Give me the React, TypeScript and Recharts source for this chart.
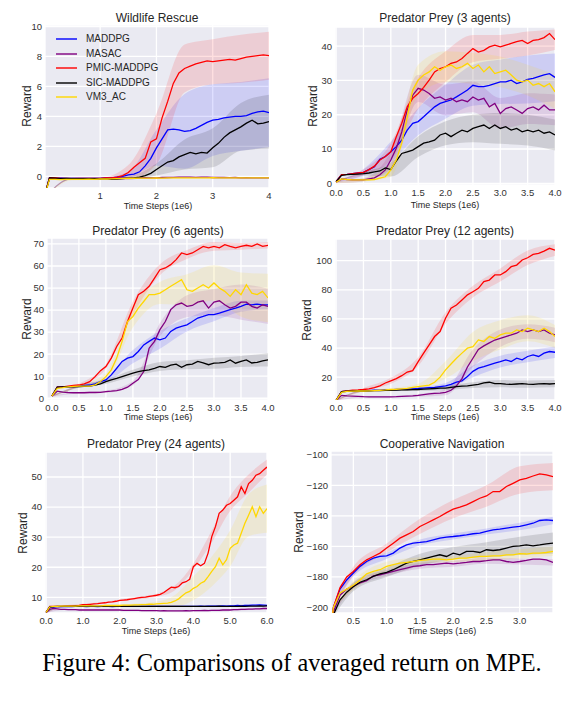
import React from 'react';
import { ComposedChart, Line, Area, XAxis, YAxis, CartesianGrid } from 'recharts';

const METHODS = ['MADDPG', 'MASAC', 'PMIC-MADDPG', 'SIC-MADDPG', 'VM3_AC'];
const COLORS = ['#0000ff', '#800080', '#ff0000', '#000000', '#ffd700'];

// x grids (1e6 steps)
const X4 = [0.0, 0.1, 0.2, 0.3, 0.4, 0.5, 0.6, 0.7, 0.8, 0.9, 1.0, 1.1, 1.2, 1.3, 1.4, 1.5, 1.6, 1.7, 1.8, 1.9, 2.0,
  2.1, 2.2, 2.3, 2.4, 2.5, 2.6, 2.7, 2.8, 2.9, 3.0, 3.1, 3.2, 3.3, 3.4, 3.5, 3.6, 3.7, 3.8, 3.9, 4.0];
const X6 = [0.0, 0.1, 0.2, 0.3, 0.4, 0.5, 0.6, 0.7, 0.8, 0.9, 1.0, 1.1, 1.2, 1.3, 1.4, 1.5, 1.6, 1.7, 1.8, 1.9, 2.0,
  2.1, 2.2, 2.3, 2.4, 2.5, 2.6, 2.7, 2.8, 2.9, 3.0, 3.1, 3.2, 3.3, 3.4, 3.5, 3.6, 3.7, 3.8, 3.9, 4.0,
  4.1, 4.2, 4.3, 4.4, 4.5, 4.6, 4.7, 4.8, 4.9, 5.0, 5.1, 5.2, 5.3, 5.4, 5.5, 5.6, 5.7, 5.8, 5.9, 6.0];
const XNAV = [0.1, 0.2, 0.3, 0.4, 0.5, 0.6, 0.7, 0.8, 0.9, 1.0, 1.1, 1.2, 1.3, 1.4, 1.5, 1.6, 1.7, 1.8, 1.9, 2.0,
  2.1, 2.2, 2.3, 2.4, 2.5, 2.6, 2.7, 2.8, 2.9, 3.0, 3.1, 3.2, 3.3, 3.4, 3.5];
const B4 = [0, 0.5, 1.0, 1.5, 2.0, 2.5, 3.0, 3.5, 4.0];
const B6 = [0, 0.5, 1.0, 1.5, 2.0, 2.5, 3.0, 3.5, 4.0, 4.5, 5.0, 5.5, 6.0];
const BNAV = [0.2, 0.5, 1.0, 1.5, 2.0, 2.5, 3.0, 3.5];

// ---------- Wildlife Rescue ----------
const WR_MADDPG = [-1.5, -0.1, -0.15, -0.13, -0.15, -0.14, -0.16, -0.15, -0.17, -0.15, -0.16, -0.1, -0.1, -0.05, 0.0, 0.1, 0.15, 0.3, 0.7, 1.2, 1.9,
  2.5, 3.1, 3.15, 3.1, 3.0, 3.05, 3.2, 3.4, 3.6, 3.75, 3.8, 3.9, 3.95, 4.0, 4.0, 4.05, 4.2, 4.3, 4.35, 4.25];
const WR_MASAC = [-1.5, -0.1, -0.12, -0.13, -0.12, -0.14, -0.13, -0.12, -0.13, -0.12, -0.12, -0.11, -0.12, -0.1, -0.1, -0.11, -0.1, -0.1, -0.09, -0.1, -0.1,
  -0.08, -0.08, -0.07, -0.06, -0.05, -0.06, -0.07, -0.05, -0.06, -0.08, -0.07, -0.08, -0.09, -0.08, -0.1, -0.09, -0.1, -0.1, -0.1, -0.1];
const WR_PMIC = [-1.5, -0.1, -0.1, -0.15, -0.15, -0.15, -0.16, -0.15, -0.15, -0.17, -0.15, -0.1, -0.1, -0.05, 0.05, 0.25, 0.6, 0.9, 1.2, 2.3, 2.5,
  3.9, 5.0, 6.2, 6.9, 7.2, 7.35, 7.5, 7.6, 7.7, 7.65, 7.7, 7.75, 7.8, 7.75, 7.85, 7.95, 8.0, 8.05, 8.1, 8.05];
const WR_SIC = [-1.5, -0.1, -0.12, -0.15, -0.14, -0.15, -0.15, -0.16, -0.15, -0.15, -0.17, -0.16, -0.2, -0.18, -0.15, -0.12, -0.1, -0.05, 0.05, 0.2, 0.45,
  0.7, 0.95, 1.05, 1.3, 1.45, 1.6, 1.5, 1.6, 1.55, 1.9, 2.2, 2.6, 2.9, 3.1, 3.3, 3.55, 3.75, 3.5, 3.55, 3.65];
const WR_VM3 = [-1.5, -0.2, -0.2, -0.22, -0.2, -0.21, -0.2, -0.2, -0.19, -0.2, -0.18, -0.18, -0.17, -0.15, -0.14, -0.13, -0.13, -0.12, -0.12, -0.12, -0.11,
  -0.12, -0.11, -0.1, -0.1, -0.11, -0.1, -0.1, -0.1, -0.1, -0.09, -0.1, -0.1, -0.1, -0.1, -0.1, -0.1, -0.1, -0.1, -0.1, -0.1];
const WR_SPREAD = [
  [0.05, 0.05, 0.05, 0.2, 1.2, 2.5, 2.4, 2.3, 2.3],
  [0.05, 0.05, 0.05, 0.05, 0.05, 0.05, 0.05, 0.05, 0.05],
  [0.05, 0.05, 0.05, 0.5, 1.7, 1.6, 1.5, 1.6, 1.6],
  [0.05, 0.05, 0.05, 0.1, 0.4, 1.0, 1.3, 1.6, 1.8],
  [0.05, 0.05, 0.05, 0.05, 0.05, 0.05, 0.05, 0.05, 0.05],
];

// ---------- Predator Prey (3 agents) ----------
const PP3_MADDPG = [0.5, 2.5, 2.6, 2.8, 3.0, 3.2, 4.0, 4.8, 7.0, 7.8, 9.2, 10.7, 12.6, 15.5, 17.5, 18.0, 19.4, 20.9, 22.3, 23.3, 23.8,
  24.3, 25.2, 26.2, 27.2, 28.6, 28.2, 28.2, 28.6, 29.1, 29.6, 29.6, 30.1, 29.1, 29.6, 30.3, 30.6, 31.1, 31.6, 32.0, 30.9];
const PP3_MASAC = [0.3, 1.3, 1.1, 1.0, 1.0, 1.0, 1.3, 1.6, 2.5, 3.9, 6.8, 10.2, 15.0, 21.4, 25.7, 27.7, 27.2, 26.2, 24.8, 25.2, 24.3,
  24.8, 23.8, 24.3, 23.8, 25.2, 24.3, 24.8, 22.3, 23.3, 20.4, 21.8, 22.3, 21.4, 20.4, 21.8, 22.3, 21.4, 22.8, 21.4, 21.4];
const PP3_PMIC = [0.5, 2.5, 2.6, 2.8, 3.0, 3.2, 4.0, 5.0, 6.8, 7.8, 9.2, 13.6, 17.5, 22.3, 24.8, 26.2, 28.0, 30.1, 32.5, 33.5, 34.0,
  35.0, 35.4, 36.4, 37.9, 39.3, 38.3, 38.8, 39.8, 40.3, 39.8, 40.3, 40.8, 41.3, 41.7, 40.8, 41.7, 41.9, 42.5, 43.7, 41.9];
const PP3_SIC = [0.5, 2.3, 2.5, 2.6, 2.7, 2.8, 3.0, 3.3, 3.6, 4.5, 4.0, 6.5, 8.7, 9.2, 9.7, 10.7, 11.7, 12.1, 12.6, 14.1, 14.6,
  13.6, 14.6, 15.5, 15.0, 16.0, 16.5, 17.0, 16.0, 17.0, 16.0, 16.5, 15.5, 16.0, 15.0, 15.5, 15.0, 15.5, 14.6, 15.0, 14.1];
const PP3_VM3 = [0.3, 1.3, 1.1, 1.0, 1.0, 1.0, 1.0, 1.1, 1.5, 1.9, 3.9, 6.8, 11.7, 19.4, 27.2, 30.1, 31.6, 32.5, 34.0, 33.0, 34.0,
  34.5, 33.5, 34.0, 35.0, 33.5, 34.5, 32.5, 34.0, 32.0, 32.5, 33.0, 31.6, 30.1, 29.6, 30.1, 28.6, 29.1, 28.2, 29.1, 26.7];
const PP3_SPREAD = [
  [0.3, 1.0, 3.0, 4.0, 5.0, 6.0, 6.5, 7.0, 7.0],
  [0.3, 0.5, 2.5, 4.0, 4.5, 4.5, 4.5, 4.5, 4.5],
  [0.3, 0.8, 2.5, 4.5, 4.5, 4.0, 3.5, 3.5, 3.0],
  [0.3, 0.5, 2.0, 3.0, 3.5, 4.0, 4.5, 4.5, 4.5],
  [0.3, 0.5, 2.0, 4.5, 4.5, 4.5, 4.5, 4.5, 5.0],
];

// ---------- Predator Prey (6 agents) ----------
const PP6_MADDPG = [1.0, 5.0, 5.1, 5.2, 5.4, 5.5, 5.8, 6.0, 6.5, 7.5, 8.3, 10.6, 13.6, 16.7, 18.2, 18.9, 21.2, 24.2, 25.8, 27.3, 26.5,
  27.3, 30.3, 31.8, 32.6, 33.3, 34.8, 36.4, 37.1, 37.9, 37.9, 38.6, 39.4, 40.2, 40.9, 41.7, 42.7, 42.4, 42.7, 42.4, 42.4];
const PP6_MASAC = [1.0, 3.2, 2.8, 2.6, 2.5, 2.5, 2.5, 2.6, 2.6, 2.7, 3.0, 3.2, 3.5, 4.0, 5.0, 6.8, 8.5, 12.1, 22.7, 25.8, 31.1,
  34.8, 40.2, 42.4, 43.2, 41.7, 42.1, 43.6, 44.2, 40.9, 43.6, 44.2, 42.4, 40.9, 41.7, 43.6, 43.6, 41.7, 40.9, 42.4, 41.7];
const PP6_PMIC = [1.0, 5.0, 5.2, 5.5, 5.8, 6.0, 6.5, 7.5, 9.8, 12.5, 14.4, 18.2, 23.5, 27.3, 34.8, 40.9, 47.0, 48.5, 50.8, 54.5, 58.3,
  59.1, 60.6, 62.9, 65.9, 65.2, 65.9, 67.4, 68.9, 68.2, 68.9, 68.2, 69.7, 68.9, 68.2, 68.9, 69.4, 68.9, 70.0, 68.9, 69.4];
const PP6_SIC = [1.0, 5.0, 5.1, 5.2, 5.2, 5.3, 5.4, 5.5, 6.0, 6.5, 7.5, 8.3, 9.0, 9.8, 10.6, 11.4, 12.1, 12.5, 12.9, 13.6, 14.4,
  14.0, 15.0, 15.5, 14.0, 15.2, 15.5, 16.7, 16.0, 15.2, 15.9, 16.0, 16.3, 17.4, 15.9, 16.7, 17.4, 16.0, 16.3, 17.0, 17.4];
const PP6_VM3 = [1.0, 4.5, 4.8, 5.2, 5.4, 5.5, 5.5, 5.5, 6.1, 7.6, 9.8, 12.9, 18.2, 25.8, 34.8, 37.1, 40.9, 43.9, 47.0, 47.0, 47.7,
  49.2, 50.8, 52.3, 53.8, 49.2, 48.5, 50.0, 51.5, 50.0, 52.3, 50.0, 48.5, 46.2, 49.2, 47.0, 51.5, 47.7, 47.0, 48.5, 45.5];
const PP6_SPREAD = [
  [0.3, 0.5, 1.0, 3.0, 4.0, 3.0, 3.0, 2.5, 2.0],
  [0.3, 0.3, 0.5, 1.0, 3.0, 5.0, 6.0, 8.0, 8.0],
  [0.3, 0.5, 1.0, 3.0, 2.5, 2.0, 2.0, 1.5, 1.5],
  [0.3, 0.5, 1.0, 1.5, 2.0, 2.0, 2.5, 2.5, 3.0],
  [0.3, 0.5, 1.5, 5.0, 5.0, 7.0, 8.0, 10.0, 11.0],
];

// ---------- Predator Prey (12 agents) ----------
const PP12_MADDPG = [4.0, 10.0, 10.3, 10.5, 10.6, 10.7, 10.8, 11.0, 11.0, 11.2, 11.3, 11.5, 11.6, 11.8, 12.0, 12.2, 12.5, 12.8, 13.0, 13.5, 14.0,
  15.0, 16.5, 17.5, 20.5, 24.0, 26.2, 27.3, 28.5, 29.6, 30.7, 31.9, 30.7, 33.0, 31.9, 34.2, 35.3, 34.2, 36.5, 37.6, 37.1];
const PP12_MASAC = [4.0, 7.5, 7.2, 7.0, 6.8, 6.6, 6.5, 6.5, 6.5, 6.5, 6.5, 6.6, 6.8, 7.0, 7.2, 7.5, 8.0, 8.5, 8.8, 9.0, 9.5,
  11.0, 14.0, 19.0, 27.0, 33.0, 39.0, 41.5, 43.5, 45.5, 46.7, 47.9, 49.0, 50.2, 52.5, 51.3, 52.5, 51.3, 52.5, 50.2, 49.0];
const PP12_PMIC = [4.0, 10.0, 10.5, 11.0, 11.2, 11.5, 12.0, 12.8, 14.0, 16.0, 17.5, 19.0, 21.0, 23.5, 24.5, 30.7, 36.5, 42.2, 47.9, 51.3, 60.5,
  67.3, 69.6, 73.0, 76.5, 78.7, 81.0, 85.6, 86.7, 90.2, 90.2, 92.5, 95.9, 97.0, 100.5, 102.0, 104.3, 105.0, 106.6, 108.5, 107.3];
const PP12_SIC = [4.0, 10.0, 10.3, 10.5, 10.5, 10.5, 10.6, 10.7, 10.8, 10.9, 11.0, 11.1, 11.2, 11.3, 11.4, 11.5, 11.8, 12.0, 12.2, 12.4, 12.5,
  13.0, 13.5, 13.8, 14.0, 14.5, 15.0, 16.0, 16.5, 15.5, 15.5, 15.2, 15.0, 15.3, 15.5, 15.2, 15.0, 15.4, 15.5, 15.3, 15.5];
const PP12_VM3 = [4.0, 9.5, 10.2, 10.4, 10.5, 10.5, 10.6, 10.8, 11.0, 11.2, 11.5, 11.7, 12.0, 12.3, 13.0, 13.5, 14.0, 14.5, 16.5, 20.0, 25.0,
  29.0, 33.0, 36.5, 39.9, 41.0, 45.6, 44.5, 47.9, 46.7, 49.0, 50.2, 50.2, 52.5, 51.3, 53.6, 52.5, 51.3, 53.6, 51.3, 47.9];
const PP12_SPREAD = [
  [0.5, 0.5, 0.5, 1.0, 2.0, 4.0, 4.0, 4.0, 4.0],
  [0.5, 0.5, 0.5, 1.0, 2.0, 6.0, 6.0, 5.0, 5.0],
  [0.5, 1.0, 2.0, 3.0, 4.0, 4.0, 4.5, 5.0, 4.0],
  [0.5, 0.5, 0.5, 1.0, 1.5, 2.0, 2.5, 2.5, 2.5],
  [0.5, 0.5, 1.0, 2.0, 6.0, 10.0, 10.0, 9.0, 8.0],
];

// ---------- Predator Prey (24 agents) ----------
const PP24_MADDPG = [5.0, 6.5, 6.8, 6.9, 6.9, 6.9, 7.0, 6.9, 7.0, 7.0, 7.0, 6.9, 7.0, 7.0, 6.9, 7.0, 7.0, 7.0, 6.9, 7.0, 7.0,
  7.0, 7.0, 7.0, 7.0, 7.0, 7.0, 7.0, 7.0, 7.0, 7.0, 7.0, 7.0, 7.0, 7.0, 7.0, 7.0, 7.0, 7.0, 7.0, 7.0,
  7.0, 7.1, 7.0, 7.1, 7.1, 7.1, 7.1, 7.2, 7.1, 7.2, 7.2, 7.3, 7.2, 7.3, 7.3, 7.4, 7.4, 7.5, 7.4, 7.3];
const PP24_MASAC = [5.0, 6.0, 6.3, 6.2, 6.0, 6.0, 5.9, 5.9, 5.9, 5.8, 5.8, 5.8, 5.8, 5.8, 5.8, 5.8, 5.8, 5.8, 5.8, 5.8, 5.8,
  5.7, 5.7, 5.7, 5.7, 5.7, 5.6, 5.6, 5.6, 5.6, 5.6, 5.5, 5.6, 5.5, 5.5, 5.5, 5.5, 5.5, 5.6, 5.5, 5.6,
  5.6, 5.6, 5.7, 5.6, 5.7, 5.7, 5.7, 5.8, 5.8, 5.8, 5.9, 5.9, 6.0, 6.0, 6.1, 6.1, 6.2, 6.2, 6.3, 6.3];
const PP24_PMIC = [5.0, 7.0, 7.0, 7.0, 7.0, 7.1, 7.1, 7.2, 7.2, 7.3, 7.6, 7.6, 7.7, 7.8, 7.9, 8.1, 8.2, 8.4, 8.5, 8.7, 9.0,
  9.1, 9.2, 9.4, 9.6, 9.8, 10.0, 10.1, 10.3, 10.5, 10.7, 11.0, 11.6, 12.5, 13.4, 13.2, 13.6, 14.8, 15.2, 16.0, 20.2,
  21.3, 20.5, 21.3, 24.7, 30.2, 33.5, 37.9, 39.0, 40.6, 41.2, 42.3, 43.4, 46.7, 44.5, 47.8, 48.9, 50.6, 51.1, 52.2, 53.3];
const PP24_SIC = [5.0, 6.8, 6.9, 7.0, 7.0, 7.0, 7.0, 7.0, 7.1, 7.0, 7.0, 7.0, 7.1, 7.0, 7.0, 7.0, 7.0, 7.1, 7.0, 7.0, 7.0,
  7.0, 7.0, 7.1, 7.0, 7.0, 7.0, 7.0, 7.0, 7.0, 7.0, 7.0, 7.0, 7.0, 7.0, 7.0, 7.0, 7.0, 7.0, 7.0, 7.0,
  7.0, 7.0, 7.0, 7.0, 7.0, 7.0, 7.1, 7.0, 7.0, 7.0, 7.0, 7.0, 7.1, 7.0, 7.1, 7.1, 7.1, 7.2, 7.1, 7.2];
const PP24_VM3 = [5.0, 6.8, 7.0, 7.0, 7.1, 7.1, 7.1, 7.1, 7.1, 7.2, 7.2, 7.2, 7.2, 7.2, 7.2, 7.2, 7.3, 7.3, 7.3, 7.3, 7.3,
  7.4, 7.4, 7.4, 7.5, 7.5, 7.6, 7.6, 7.7, 7.7, 7.8, 7.9, 8.0, 8.1, 8.3, 8.8, 9.5, 10.5, 11.5, 12.0, 13.0,
  13.6, 14.7, 15.3, 16.9, 18.6, 20.2, 23.0, 20.8, 22.5, 26.3, 27.4, 28.0, 31.3, 34.6, 37.3, 40.1, 36.8, 40.1, 37.9, 39.5];
const PP24_SPREAD = [
  [0.2, 0.2, 0.2, 0.2, 0.2, 0.2, 0.2, 0.2, 0.2, 0.3, 0.3, 0.3, 0.3],
  [0.2, 0.2, 0.2, 0.2, 0.2, 0.2, 0.2, 0.2, 0.2, 0.3, 0.3, 0.3, 0.3],
  [0.2, 0.2, 0.3, 0.3, 0.3, 0.4, 0.5, 0.8, 1.0, 2.0, 2.5, 3.0, 2.5],
  [0.2, 0.2, 0.2, 0.2, 0.2, 0.2, 0.2, 0.2, 0.2, 0.2, 0.2, 0.2, 0.2],
  [0.2, 0.2, 0.3, 0.3, 0.3, 0.5, 0.8, 2.0, 4.0, 5.0, 6.0, 7.0, 8.0],
];

// ---------- Cooperative Navigation ----------
const CN_MADDPG = [-240, -200, -188, -182, -177.5, -173.1, -169.9, -167.7, -166.6, -166.2, -164.4, -161.1, -159, -157.9, -157.4, -156.8, -155.7, -154.6, -153.9, -153.5,
  -153, -152.4, -151.7, -151.3, -150.2, -149.1, -148.7, -148, -147.4, -146.9, -145.9, -144.8, -143, -142.6, -143];
const CN_MASAC = [-245, -203, -192, -188, -186, -184, -182.5, -179.3, -178.6, -177.5, -176.4, -175.3, -174.2, -173.1, -172.7, -172, -172, -171.4, -171, -171.4,
  -171, -170.5, -169.9, -169.9, -169.4, -168.8, -168.8, -169.9, -170.5, -169.9, -169.2, -168.3, -168.3, -168.8, -170.5];
const CN_PMIC = [-240, -200, -187, -180, -176.4, -172, -168.8, -166.6, -164.4, -161.1, -157.9, -154.6, -152.4, -150.2, -146.9, -144.8, -142.6, -140.4, -137.8, -135.6,
  -134.3, -132.8, -130.6, -128.4, -126.9, -124, -124, -120.7, -118.6, -116.4, -115.3, -113.8, -112.4, -113.1, -114.2];
const CN_SIC = [-245, -205, -195, -190, -186.5, -183.5, -181.9, -179.7, -178, -177, -175.3, -173.1, -171, -169.9, -168.8, -167.7, -166.6, -165.5, -166.6, -164.4,
  -165.5, -163.3, -163.3, -164, -162.2, -162.7, -162.2, -161.1, -160, -159.6, -159, -159.6, -159, -158.3, -157.9];
const CN_VM3 = [-240, -200, -190.6, -188, -185.5, -182, -178, -176.4, -175.3, -173.1, -172, -171, -170.5, -169.9, -169.2, -168.8, -168.3, -168.3, -168.8, -168.3,
  -167.7, -167.7, -167, -166.6, -166.6, -166.2, -166.2, -165.5, -165.5, -164.8, -165, -164.4, -164.4, -164, -163.3];
const CN_SPREAD = [
  [1, 2, 2, 2, 2, 2, 2.5, 2.5],
  [1, 2, 2, 2, 2, 2, 2, 2],
  [1, 3, 3, 5, 6, 7, 9, 9],
  [1, 3, 3, 4, 4, 5, 6, 7],
  [1, 3, 3, 2, 2, 3, 3, 3],
];

const X4_TICKS = [0, 0.5, 1, 1.5, 2, 2.5, 3, 3.5, 4];

const PANELS = [
  {
    title: 'Wildlife Rescue', xs: X4, bandX: B4,
    means: [WR_MADDPG, WR_MASAC, WR_PMIC, WR_SIC, WR_VM3], spread: WR_SPREAD,
    rect: { L: 45, T: 25, R: 269, B: 188 },
    xDomain: [0.02, 4.0], yDomain: [-0.78, 10.1],
    xTicks: [1, 2, 3, 4], yTicks: [0, 2, 4, 6, 8, 10], xDigits: 0,
    titlePos: [157, 18], ylabPos: [27, 106], xlabPos: [158, 205.5],
  },
  {
    title: 'Predator Prey (3 agents)', xs: X4, bandX: B4,
    means: [PP3_MADDPG, PP3_MASAC, PP3_PMIC, PP3_SIC, PP3_VM3], spread: PP3_SPREAD,
    rect: { L: 335, T: 27, R: 555, B: 185 },
    xDomain: [-0.02, 4.0], yDomain: [-0.5, 45.6],
    xTicks: X4_TICKS, yTicks: [0, 10, 20, 30, 40], xDigits: 1,
    titlePos: [445, 18], ylabPos: [313, 106], xlabPos: [445, 205],
  },
  {
    title: 'Predator Prey (6 agents)', xs: X4, bandX: B4,
    means: [PP6_MADDPG, PP6_MASAC, PP6_PMIC, PP6_SIC, PP6_VM3], spread: PP6_SPREAD,
    rect: { L: 47, T: 238, R: 268, B: 400 },
    xDomain: [-0.09, 4.0], yDomain: [-0.8, 72.7],
    xTicks: X4_TICKS, yTicks: [0, 10, 20, 30, 40, 50, 60, 70], xDigits: 1,
    titlePos: [158, 231], ylabPos: [27, 319], xlabPos: [158, 417],
  },
  {
    title: 'Predator Prey (12 agents)', xs: X4, bandX: B4,
    means: [PP12_MADDPG, PP12_MASAC, PP12_PMIC, PP12_SIC, PP12_VM3], spread: PP12_SPREAD,
    rect: { L: 335, T: 239, R: 555, B: 400 },
    xDomain: [-0.02, 4.0], yDomain: [4.3, 114.9],
    xTicks: X4_TICKS, yTicks: [20, 40, 60, 80, 100], xDigits: 1,
    titlePos: [445, 231], ylabPos: [307, 320], xlabPos: [445, 417],
  },
  {
    title: 'Predator Prey (24 agents)', xs: X6, bandX: B6,
    means: [PP24_MADDPG, PP24_MASAC, PP24_PMIC, PP24_SIC, PP24_VM3], spread: PP24_SPREAD,
    rect: { L: 45, T: 452, R: 267, B: 613 },
    xDomain: [-0.03, 6.0], yDomain: [4.8, 58.3],
    xTicks: [0, 1, 2, 3, 4, 5, 6], yTicks: [10, 20, 30, 40, 50], xDigits: 1,
    titlePos: [156, 444], ylabPos: [23, 533], xlabPos: [156, 630.5],
  },
  {
    title: 'Cooperative Navigation', xs: XNAV, bandX: BNAV,
    means: [CN_MADDPG, CN_MASAC, CN_PMIC, CN_SIC, CN_VM3], spread: CN_SPREAD,
    rect: { L: 331, T: 451, R: 553, B: 613 },
    xDomain: [0.164, 3.5], yDomain: [-203.7, -97.4],
    xTicks: [0.5, 1, 1.5, 2, 2.5, 3], yTicks: [-200, -180, -160, -140, -120, -100], xDigits: 1,
    titlePos: [442, 444], ylabPos: [299, 532], xlabPos: [442, 630.5],
  },
];

const SANS = '"Liberation Sans", Arial, Helvetica, sans-serif';
const TEXT = '#262626';
const tickStyle = { fill: '#333333', fontSize: 9.5, fontFamily: SANS };

function fmtY(v: number) {
  return v < 0 ? '\u2212' + String(Math.abs(v)) : String(v);
}

function Panel({ p }: { p: any }) {
  const { xs, means, spread, bandX, rect } = p;
  const w = rect.R - rect.L + 50;
  const h = rect.B - rect.T + 40;
  const rows = xs.map((x: number, i: number) => {
    const r: any = { x };
    means.forEach((m: number[], k: number) => { r['s' + k] = m[i]; });
    return r;
  });
  const bands = means.map((m: number[], k: number) =>
    bandX.map((bx: number, j: number) => {
      const i = xs.findIndex((v: number) => Math.abs(v - bx) < 1e-6);
      return { x: bx, r: [m[i] - spread[k][j], m[i] + spread[k][j]] };
    })
  );
  return (
    <div style={{ position: 'absolute', left: rect.L - 40, top: rect.T - 10 }}>
      <ComposedChart width={w} height={h} data={rows} margin={{ top: 10, right: 10, bottom: 0, left: 0 }}>
        <CartesianGrid fill="#eaeaf2" stroke="#ffffff" strokeWidth={1.3} />
        <XAxis
          type="number" dataKey="x" domain={p.xDomain} ticks={p.xTicks} allowDataOverflow interval={0}
          tickFormatter={(v: number) => v.toFixed(p.xDigits)} axisLine={false} tickLine={false}
          tickSize={0} tickMargin={4} height={30} tick={tickStyle}
        />
        <YAxis
          type="number" domain={p.yDomain} ticks={p.yTicks} allowDataOverflow interval={0}
          tickFormatter={fmtY} axisLine={false} tickLine={false} tickSize={0} tickMargin={3}
          width={40} tick={tickStyle}
        />
        {bands.map((b: any[], k: number) => (
          <Area
            key={'b' + k} data={b} dataKey="r" type="monotone" stroke="none"
            fill={COLORS[k]} fillOpacity={0.12} isAnimationActive={false} activeDot={false}
          />
        ))}
        {means.map((_m: number[], k: number) => (
          <Line
            key={'l' + k} dataKey={'s' + k} type="linear" stroke={COLORS[k]} strokeWidth={1.3}
            dot={false} activeDot={false} isAnimationActive={false}
          />
        ))}
      </ComposedChart>
    </div>
  );
}

const centered = (x: number, y: number, extra: any = {}) => ({
  position: 'absolute' as const, left: x, top: y, transform: 'translate(-50%, -50%)' + (extra.rot ? ' rotate(-90deg)' : ''),
  whiteSpace: 'nowrap' as const, lineHeight: 1, fontFamily: SANS, color: TEXT, fontSize: extra.size || 12,
});

export default function App() {
  return (
    <div style={{ position: 'absolute', left: 0, top: 0, width: 584, height: 702, background: '#ffffff', overflow: 'hidden' }}>
      {PANELS.map((p, i) => (
        <React.Fragment key={i}>
          <Panel p={p} />
          <div style={centered(p.titlePos[0], p.titlePos[1], { size: 12 })}>{p.title}</div>
          <div style={centered(p.ylabPos[0], p.ylabPos[1], { size: 12, rot: true })}>Reward</div>
          <div style={centered(p.xlabPos[0], p.xlabPos[1], { size: 9 })}>Time Steps (1e6)</div>
        </React.Fragment>
      ))}
      {METHODS.map((m, k) => (
        <div key={m} style={{ position: 'absolute', left: 56, top: 39 + k * 14.6 - 6, height: 12, display: 'flex', alignItems: 'center' }}>
          <div style={{ width: 21, height: 2, background: COLORS[k], opacity: 0.7 }} />
          <div style={{ marginLeft: 9, fontFamily: SANS, fontSize: 10, color: TEXT, lineHeight: 1, whiteSpace: 'nowrap' }}>{m}</div>
        </div>
      ))}
      <div style={{ position: 'absolute', left: 292, top: 663, transform: 'translate(-50%, -50%)', whiteSpace: 'nowrap',
        fontFamily: '"Liberation Serif", "Times New Roman", serif', fontSize: 24.3, color: '#000', lineHeight: 1 }}>
        Figure 4: Comparisons of averaged return on MPE.
      </div>
    </div>
  );
}
